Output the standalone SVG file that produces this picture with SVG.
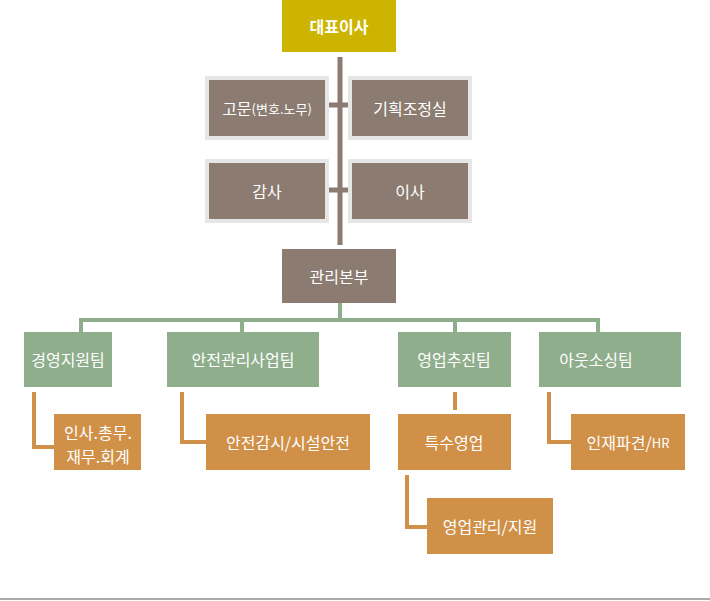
<svg xmlns="http://www.w3.org/2000/svg" width="710" height="601" viewBox="0 0 710 601">
<style>
text{font-family:"Noto Sans CJK KR","Noto Sans",sans-serif;fill:#fff;text-anchor:middle;dominant-baseline:central;font-size:16px}
.g{fill:#8b7b70;stroke:#e6e6e6;stroke-width:4}
.gr{fill:#8fae8b}
.o{fill:#d09048}
.cb{stroke:#8b7b70;stroke-width:5;fill:none}
.cg{stroke:#8fae8b;stroke-width:4;fill:none}
.co{stroke:#d09048;stroke-width:4;fill:none}
</style>
<rect width="710" height="601" fill="#fff"/>
<g id="connectors">
<path class="cb" d="M340 57V245M327 105H350M327 190H350"/>
<path class="cg" d="M340 303V320M81 332V320H598V332M242 320V332M455 320V332"/>
<path class="co" d="M34 392V447H54M182 392V442H206M455 392V410M549 392V442H571M407 475V527H427"/>
</g>
<g id="n_ceo"><rect x="282" y="0" width="114" height="52" fill="#cdb400"/><text x="339" y="26" font-size="22" font-weight="bold">대표이사</text></g>
<g id="n_advisor"><rect class="g" x="207" y="78" width="120" height="60"/><text x="267" y="108">고문<tspan font-size="13">(변호.노무)</tspan></text></g>
<g id="n_plan"><rect class="g" x="350" y="78" width="120" height="60"/><text x="410" y="108">기획조정실</text></g>
<g id="n_audit"><rect class="g" x="207" y="161" width="120" height="60"/><text x="267" y="191">감사</text></g>
<g id="n_director"><rect class="g" x="350" y="161" width="120" height="60"/><text x="410" y="191">이사</text></g>
<g id="n_hq"><rect x="282" y="249" width="114" height="54" fill="#8b7b70"/><text x="339" y="276">관리본부</text></g>
<g id="n_t1"><rect class="gr" x="24" y="332" width="88" height="55"/><text x="68" y="359">경영지원팀</text></g>
<g id="n_t2"><rect class="gr" x="167" y="332" width="152" height="55"/><text x="243" y="359">안전관리사업팀</text></g>
<g id="n_t3"><rect class="gr" x="398" y="332" width="113" height="55"/><text x="454" y="359">영업추진팀</text></g>
<g id="n_t4"><rect class="gr" x="539" y="332" width="142" height="55"/><text x="596" y="359">아웃소싱팀</text></g>
<g id="n_s1"><rect class="o" x="54" y="414" width="87" height="56"/><text x="98" y="432">인사.총무.</text><text x="98" y="456">재무.회계</text></g>
<g id="n_s2"><rect class="o" x="206" y="414" width="164" height="56"/><text x="288" y="442">안전감시/시설안전</text></g>
<g id="n_s3"><rect class="o" x="398" y="414" width="113" height="56"/><text x="454" y="442">특수영업</text></g>
<g id="n_s4"><rect class="o" x="571" y="414" width="114" height="56"/><text x="628" y="442">인재파견/<tspan font-size="13">HR</tspan></text></g>
<g id="n_s5"><rect class="o" x="427" y="498" width="126" height="56"/><text x="490" y="526">영업관리/지원</text></g>
<line x1="0" y1="599" x2="710" y2="599" stroke="#aaa" stroke-width="2"/>
</svg>
